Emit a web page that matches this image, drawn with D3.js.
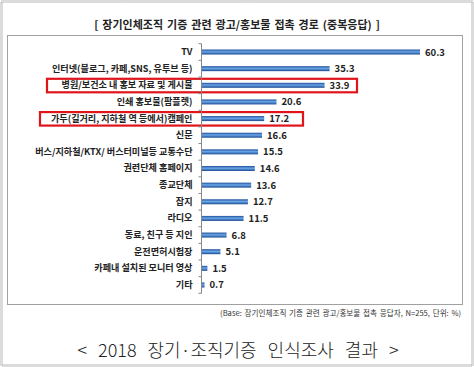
<!DOCTYPE html>
<html><head><meta charset="utf-8">
<script src="https://cdn.jsdelivr.net/npm/d3@7"></script>
<style>body{margin:0;background:#fff}svg{display:block}</style>
</head><body>
<svg id="c" width="474" height="367"></svg>
<script>
const categories = ["TV","인터넷(블로그, 카페,SNS, 유투브 등)","병원/보건소 내 홍보 자료 및 게시물","인쇄 홍보물(팜플렛)","가두(길거리, 지하철 역 등에서)캠페인","신문","버스/지하철/KTX/ 버스터미널등 교통수단","권련단체 홈페이지","종교단체","잡지","라디오","동료, 친구 등 지인","운전면허시험장","카페내 설치된 모니터 영상","기타"];
const values = [60.3,35.3,33.9,20.6,17.2,16.6,15.5,14.6,13.6,12.7,11.5,6.8,5.1,1.5,0.7];
const highlighted = ["병원/보건소 내 홍보 자료 및 게시물","가두(길거리, 지하철 역 등에서)캠페인"];
const title = "[ 장기인체조직 기증 관련 광고/홍보물 접촉 경로 (중복응답) ]";
const footnote = "(Base: 장기인체조직 기증 관련 광고/홍보물 접촉 응답자, N=255, 단위: %)";
const caption = "< 2018 장기·조직기증 인식조사 결과 >";

const svg = d3.select("#c");
const font = "'Noto Sans CJK KR','Noto Sans',sans-serif";

// outer dotted frame
svg.append("rect").attr("x",1.5).attr("y",1.5).attr("width",471).attr("height",364)
  .attr("fill","none").attr("stroke","#b8b8b8").attr("stroke-width",3).attr("stroke-dasharray","1 1");
// inner box
svg.append("rect").attr("x",7.5).attr("y",35.5).attr("width",455).attr("height",269)
  .attr("fill","#fff").attr("stroke","#a0a0a0").attr("stroke-width",1);

const defs = svg.append("defs");
const g = defs.append("linearGradient").attr("id","bg").attr("x1",0).attr("y1",0).attr("x2",0).attr("y2",1);
g.append("stop").attr("offset","0%").attr("stop-color","#1f4f9a");
g.append("stop").attr("offset","45%").attr("stop-color","#6aa6e8");
g.append("stop").attr("offset","100%").attr("stop-color","#1c4a92");

const x = d3.scaleLinear().domain([0,60.3]).range([202,420]);
const y = d3.scaleBand().domain(categories).range([43.7,293.3]).paddingInner(0);

// highlight boxes
const boxes = {
  "병원/보건소 내 홍보 자료 및 게시물": [47,357],
  "가두(길거리, 지하철 역 등에서)캠페인": [40,303]
};
highlighted.forEach(c=>{
  const [x0,x1]=boxes[c];
  const cy = y(c)+y.bandwidth()/2;
  svg.append("rect").attr("x",x0).attr("y",cy-6.5).attr("width",x1-x0).attr("height",13.5)
    .attr("fill","none").attr("stroke","#e0151b").attr("stroke-width",2.2);
});

// bars
svg.append("g").selectAll("rect").data(values).join("rect")
  .attr("x",x(0)).attr("y",(d,i)=>y(categories[i])+y.bandwidth()/2-2.5)
  .attr("width",d=>x(d)-x(0)).attr("height",5).attr("fill","url(#bg)");

// axis
const ax = svg.append("g").attr("transform",`translate(${x(0)-0.5},0)`)
  .call(d3.axisLeft(y).tickSize(0).tickPadding(9));
ax.select(".domain").attr("stroke","#888").attr("d",`M0,${y.range()[0]}V${y.range()[1]}`);
ax.selectAll("text").attr("font-family",font).attr("font-size",9.1).attr("font-weight","bold").attr("fill","#222");
// minor ticks at band boundaries
svg.append("g").selectAll("line").data(d3.range(categories.length+1)).join("line")
  .attr("x1",x(0)-3.5).attr("x2",x(0)-0.5)
  .attr("y1",i=>y.range()[0]+i*y.step()).attr("y2",i=>y.range()[0]+i*y.step())
  .attr("stroke","#888");

// value labels
svg.append("g").selectAll("text").data(values).join("text")
  .attr("x",d=>x(d)+5).attr("y",(d,i)=>y(categories[i])+y.bandwidth()/2+3.5)
  .attr("font-family",font).attr("font-size",9.5).attr("font-weight","bold").attr("fill","#222")
  .text(d=>d.toFixed(1));

// titles
svg.append("text").attr("x",237).attr("y",29).attr("text-anchor","middle")
  .attr("font-family",font).attr("font-size",11).attr("font-weight","bold").attr("fill","#222")
  .attr("word-spacing",1.5).text(title);
svg.append("text").attr("x",461).attr("y",316).attr("text-anchor","end")
  .attr("font-family",font).attr("font-size",7.6).attr("fill","#333").attr("word-spacing",1).text(footnote);
svg.append("text").attr("x",238).attr("y",357).attr("text-anchor","middle")
  .attr("font-family",font).attr("font-size",18).attr("font-weight",300).attr("fill","#222")
  .attr("word-spacing",7).text(caption);
</script>
</body></html>
